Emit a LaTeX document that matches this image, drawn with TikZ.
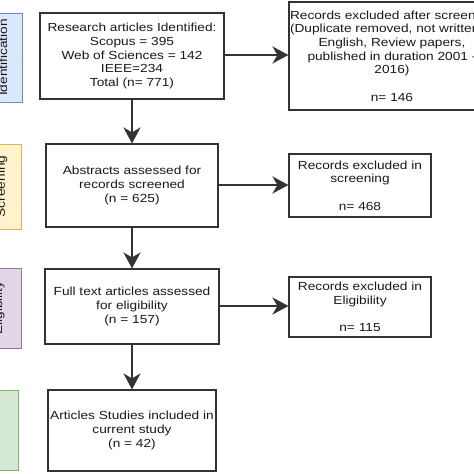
\documentclass[tikz,border=0pt]{standalone}
\usepackage{fontspec}
\setmainfont{Liberation Sans}[FakeStretch=1.17]
\usetikzlibrary{arrows.meta}
\definecolor{ink}{HTML}{333333}
\definecolor{txt}{HTML}{1A1A1A}
\definecolor{idfill}{HTML}{DAE8FC}\definecolor{iddraw}{HTML}{6C8EBF}
\definecolor{scfill}{HTML}{FFF2CC}\definecolor{scdraw}{HTML}{D6B656}
\definecolor{elfill}{HTML}{E1D5E7}\definecolor{eldraw}{HTML}{9673A6}
\definecolor{infill}{HTML}{D5E8D4}\definecolor{indraw}{HTML}{82B366}
\begin{document}
\begin{tikzpicture}[x=1pt,y=-1pt,
  box/.style={draw=ink, line width=1.1pt, fill=white, inner sep=0pt, align=center,
    font=\fontsize{11.7}{13.7}\selectfont, text=txt},
  arr/.style={draw=ink, line width=2.6pt, -{Stealth[length=16pt,width=17pt,inset=5pt]}},
  sidebox/.style={line width=0.8pt, inner sep=0pt, minimum width=44pt},
  sidetext/.style={rotate=90, anchor=base, inner sep=0pt, font=\fontsize{11.7}{13.7}\selectfont, text=txt}]
\useasboundingbox (0,0) rectangle (474,474);
\fill[white] (0,0) rectangle (474,474);
\clip (0,0) rectangle (474,474);
% side labels
\node[sidebox, fill=idfill, draw=iddraw, minimum height=89pt] (sid) at (0,57.5) {};
\node[sidetext] (tid) at (7,57.5) {Identification};
\node[sidebox, fill=scfill, draw=scdraw, minimum height=85pt] (ssc) at (-1,186.5) {};
\node[sidetext] (tsc) at (5,186.5) {Screening};
\node[sidebox, fill=elfill, draw=eldraw, minimum height=80pt] (sel) at (-1,308) {};
\node[sidetext] (tel) at (2,308) {Eligibility};
\node[sidebox, fill=infill, draw=indraw, minimum height=80pt] (sin) at (-4,430) {};
\node[sidetext] (tin) at (-4,430) {Included};
% main boxes
\node[box, minimum width=184pt, minimum height=86pt] (b1) at (132,56)
  {Research articles Identified:\\Scopus = 395\\Web of Sciences = 142\\IEEE=234\\Total (n= 771)};
\node[box, minimum width=172pt, minimum height=83pt] (b2) at (132,185.5)
  {Abstracts assessed for\\records screened\\(n = 625)};
\node[box, minimum width=174pt, minimum height=75pt] (b3) at (132,306.5)
  {Full text articles assessed\\for eligibility\\(n = 157)};
\node[box, minimum width=168pt, minimum height=81pt] (b4) at (132,430.5)
  {Articles Studies included in\\current study\\(n = 42)};
% right boxes
\node[box, minimum width=206pt, minimum height=108pt] (r1) at (392,56)
  {Records excluded after screening\\(Duplicate removed, not written in\\English, Review papers,\\published in duration 2001 -\\2016)\\[13.7pt]n= 146};
\node[box, minimum width=142pt, minimum height=63pt] (r2) at (360,185.5)
  {Records excluded in\\screening\\[13.7pt]n= 468};
\node[box, minimum width=142pt, minimum height=60pt] (r3) at (360,307)
  {Records excluded in\\Eligibility\\[13.7pt]n= 115};
% arrows
\draw[arr] (b1.south) -- (b2.north);
\draw[arr] (b2.south) -- (b3.north);
\draw[arr] (b3.south) -- (b4.north);
\draw[arr] ([yshift=1pt]b1.east) -- ([yshift=1pt]b1.east -| r1.west);
\draw[arr] ([yshift=0.5pt]b2.east) -- ([yshift=0.5pt]b2.east -| r2.west);
\draw[arr] ([yshift=0.5pt]b3.east) -- ([yshift=0.5pt]b3.east -| r3.west);
\end{tikzpicture}
\end{document}
